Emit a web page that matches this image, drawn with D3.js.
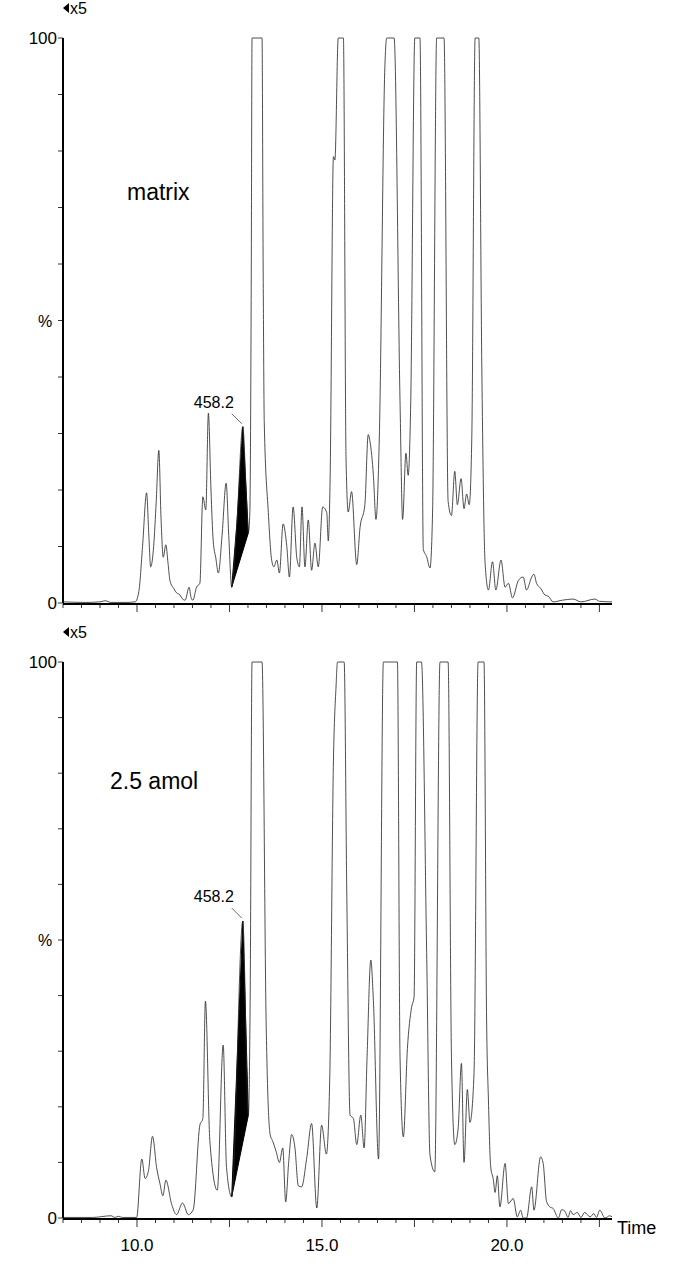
<!DOCTYPE html>
<html>
<head>
<meta charset="utf-8">
<script src="https://cdn.jsdelivr.net/npm/d3@7"></script>
<style>
  body { margin: 0; background: #fff; }
  svg { display: block; font-family: "Liberation Sans", Arial, sans-serif; }
</style>
</head>
<body>
<script>
// chromatogram traces, [time (min), intensity %]
const matrixTrace = [
  [8.0,0.2],[8.6,0.1],[9.0,0.2],[9.14,0.4],[9.3,0.1],[9.7,0.1],[9.95,0.2],[10.05,2],[10.15,10],[10.26,19.5],
  [10.32,12],[10.37,6.4],[10.45,10],[10.52,18],[10.59,27],[10.65,15],[10.71,8.1],[10.78,10.3],[10.84,7],[10.89,4],
  [11.0,2.5],[11.07,1.8],[11.15,1.5],[11.22,0.8],[11.3,0.5],[11.41,2.8],[11.46,1],[11.51,0.5],[11.61,2.8],[11.7,3.5],
  [11.78,18.8],[11.86,16.5],[11.93,33.6],[12.0,20],[12.06,11],[12.13,8],[12.2,5.3],[12.3,12],[12.41,21.2],[12.48,12],
  [12.56,2.8],[12.7,14],[12.86,31.2],[12.95,20],[13.01,12.4],[13.05,15.9],[13.09,60],[13.11,100],[13.38,100],[13.41,60],
  [13.44,32],[13.55,16],[13.64,7.6],[13.7,6.4],[13.78,7.6],[13.85,5.3],[13.95,14],[14.05,10],[14.12,4.6],[14.22,17],
  [14.32,8],[14.39,6.4],[14.46,17],[14.54,6.4],[14.63,14.7],[14.72,5.8],[14.81,10.6],[14.9,6.4],[15.02,17],[15.13,16],
  [15.17,11],[15.22,21.8],[15.31,79],[15.35,78.4],[15.44,100],[15.58,100],[15.65,25.9],[15.71,16.1],[15.8,19.7],[15.94,6.8],
  [16.03,13.4],[16.16,17.4],[16.25,29.8],[16.3,28.5],[16.39,22.6],[16.46,14.8],[16.55,29.2],[16.7,94.8],[16.75,100],[16.95,100],
  [17.11,35.7],[17.18,14.8],[17.27,26.5],[17.33,22.6],[17.4,35.7],[17.51,100],[17.65,100],[17.74,9.5],[17.83,8.2],[17.92,6.2],
  [17.99,16.1],[18.1,100],[18.3,100],[18.41,18],[18.5,15.5],[18.59,23.3],[18.66,17.4],[18.76,22],[18.84,16.7],[18.91,19.3],
  [18.98,17.4],[19.05,29.2],[19.14,100],[19.24,100],[19.32,42.3],[19.41,7],[19.5,2.3],[19.61,7.3],[19.7,2.3],[19.84,7.6],
  [19.95,2.8],[20.04,3.5],[20.15,0.9],[20.31,4],[20.44,4.6],[20.53,2.3],[20.67,4.6],[20.73,5.1],[20.8,3.5],[20.91,2.6],
  [21.03,1.4],[21.12,1.2],[21.25,0.2],[21.5,0.5],[21.79,0.7],[22.0,0.2],[22.38,0.7],[22.5,0.3],[22.84,0.2]
];
const amolTrace = [
  [8.0,0.1],[8.8,0.1],[9.3,0.4],[9.4,0.1],[9.5,0.3],[9.6,0.1],[9.99,0.1],[10.13,10.6],[10.22,7.1],[10.31,8.5],
  [10.42,14.7],[10.53,9.1],[10.62,6.2],[10.7,4],[10.78,6.8],[10.94,2.4],[11.07,0.6],[11.23,2.7],[11.39,0.6],[11.52,1.5],
  [11.7,16.7],[11.78,17.9],[11.85,39],[11.97,13.8],[12.17,5],[12.33,31.1],[12.42,9.1],[12.56,3.8],[12.86,53.4],[13.01,18.5],
  [13.06,40],[13.11,100],[13.38,100],[13.49,35.6],[13.6,15],[13.67,13.8],[13.76,12],[13.85,10],[13.94,12.6],[14.02,2.9],
  [14.1,10],[14.18,15],[14.27,12.6],[14.36,5.8],[14.45,5.6],[14.59,10.9],[14.72,17],[14.86,1.8],[14.99,16.7],[15.12,11.5],
  [15.21,25],[15.31,82.2],[15.38,95.5],[15.42,100],[15.6,100],[15.67,59],[15.76,18.5],[15.85,17.9],[15.94,13.2],[16.05,18.5],
  [16.14,12.6],[16.22,29.1],[16.32,46.4],[16.39,39.1],[16.53,10.6],[16.66,100],[17.04,100],[17.11,29.1],[17.2,14.6],[17.31,30.5],
  [17.42,37.8],[17.49,39.8],[17.56,100],[17.69,100],[17.83,47.7],[17.92,11.3],[18.05,8.3],[18.19,100],[18.41,100],[18.5,29.1],
  [18.59,13.2],[18.68,16],[18.77,27.8],[18.84,10],[18.93,23.1],[19.0,17.2],[19.11,25.9],[19.22,100],[19.38,100],[19.45,35.8],
  [19.5,21.2],[19.56,9.3],[19.63,7],[19.68,4.6],[19.74,7.6],[19.81,2],[19.95,9.8],[20.04,2.6],[20.17,3.5],[20.28,0.2],
  [20.37,1.4],[20.44,0],[20.53,0],[20.67,5.6],[20.73,1.4],[20.91,11],[20.98,9.8],[21.07,3],[21.16,2],[21.25,1.7],
  [21.39,0],[21.48,1.5],[21.57,1.2],[21.65,0.1],[21.72,1.3],[21.79,0.6],[21.9,1],[22.0,0.1],[22.1,1],[22.25,0.2],
  [22.35,0.8],[22.42,0.1],[22.51,1.4],[22.65,0],[22.78,0.4],[22.84,0.2]
];
const panelLabels = ["matrix", "2.5 amol"];
const peakLabel = "458.2";
const peakWindow = [12.56, 13.01];   // integrated peak, filled black
const xTickLabels = [10, 15, 20];
const yTickLabels = [0, 100];

const width = 676, height = 1280;
const svg = d3.select("body").append("svg").attr("width", width).attr("height", height);

const x = d3.scaleLinear().domain([8, 22.84]).range([63, 612]);

const panels = [
  {trace: matrixTrace, top: 38, bottom: 603, label: panelLabels[0], labelX: 127, labelY: 200, tickLabels: false},
  {trace: amolTrace, top: 662, bottom: 1218, label: panelLabels[1], labelX: 110, labelY: 789, tickLabels: true}
];

panels.forEach(p => {
  const y = d3.scaleLinear().domain([0, 100]).range([p.bottom, p.top]);
  const g = svg.append("g");

  // filled peak: between trace and straight baseline
  const inPeak = p.trace.filter(d => d[0] >= peakWindow[0] && d[0] <= peakWindow[1]);
  const a = inPeak[0];
  g.append("path")
    .attr("d", d3.line().x(d => x(d[0])).y(d => y(d[1]))([...inPeak, a]))
    .attr("fill", "#000").attr("stroke", "#000").attr("stroke-width", 1);

  g.append("path")
    .attr("d", d3.line().x(d => x(d[0])).y(d => y(d[1])).curve(d3.curveMonotoneX)(p.trace))
    .attr("fill", "none").attr("stroke", "#222").attr("stroke-width", 0.8);

  // y axis
  g.append("line").attr("x1", 63).attr("x2", 63).attr("y1", p.top).attr("y2", p.bottom)
    .attr("stroke", "#000").attr("stroke-width", 2);
  d3.range(0, 101, 10).forEach(v => {
    g.append("line").attr("x1", 58).attr("x2", 63).attr("y1", y(v)).attr("y2", y(v))
      .attr("stroke", "#000").attr("stroke-width", 0.8);
  });
  yTickLabels.forEach(v => {
    g.append("text").attr("x", 57).attr("y", y(v) + 6).attr("text-anchor", "end")
      .attr("font-size", 17).text(v);
  });
  g.append("text").attr("x", 45).attr("y", y(50) + 6).attr("text-anchor", "middle")
    .attr("font-size", 16).text("%");

  // x5 marker
  g.append("path").attr("d", `M63,${p.top - 30}l6,-5v10z`).attr("fill", "#000");
  g.append("text").attr("x", 70).attr("y", p.top - 24).attr("font-size", 16).text("x5");

  // x axis
  g.append("line").attr("x1", 63).attr("x2", 612).attr("y1", p.bottom + 1).attr("y2", p.bottom + 1)
    .attr("stroke", "#000").attr("stroke-width", 2);
  d3.range(8, 22.9, 0.5).forEach(t => {
    const major = Math.abs(t / 2.5 - Math.round(t / 2.5)) < 1e-6;
    g.append("line").attr("x1", x(t)).attr("x2", x(t)).attr("y1", p.bottom + 1).attr("y2", p.bottom + (major ? 9 : 5))
      .attr("stroke", "#000").attr("stroke-width", 0.8);
  });
  if (p.tickLabels) {
    xTickLabels.forEach(t => {
      g.append("text").attr("x", x(t)).attr("y", p.bottom + 33).attr("text-anchor", "middle")
        .attr("font-size", 17).text(d3.format(".1f")(t));
    });
    g.append("text").attr("x", 617).attr("y", p.bottom + 16).attr("font-size", 18).text("Time");
  }

  g.append("text").attr("x", p.labelX).attr("y", p.labelY).attr("font-size", 23).text(p.label);

  // peak annotation
  const apex = inPeak.reduce((m, d) => d[1] > m[1] ? d : m);
  const ax = x(apex[0]), ay = y(apex[1]);
  g.append("line").attr("x1", ax - 11).attr("y1", ay - 13).attr("x2", ax - 1).attr("y2", ay - 3)
    .attr("stroke", "#000").attr("stroke-width", 0.6);
  g.append("text").attr("x", ax - 29).attr("y", ay - 19).attr("text-anchor", "middle")
    .attr("font-size", 16).text(peakLabel);
});
</script>
</body>
</html>
